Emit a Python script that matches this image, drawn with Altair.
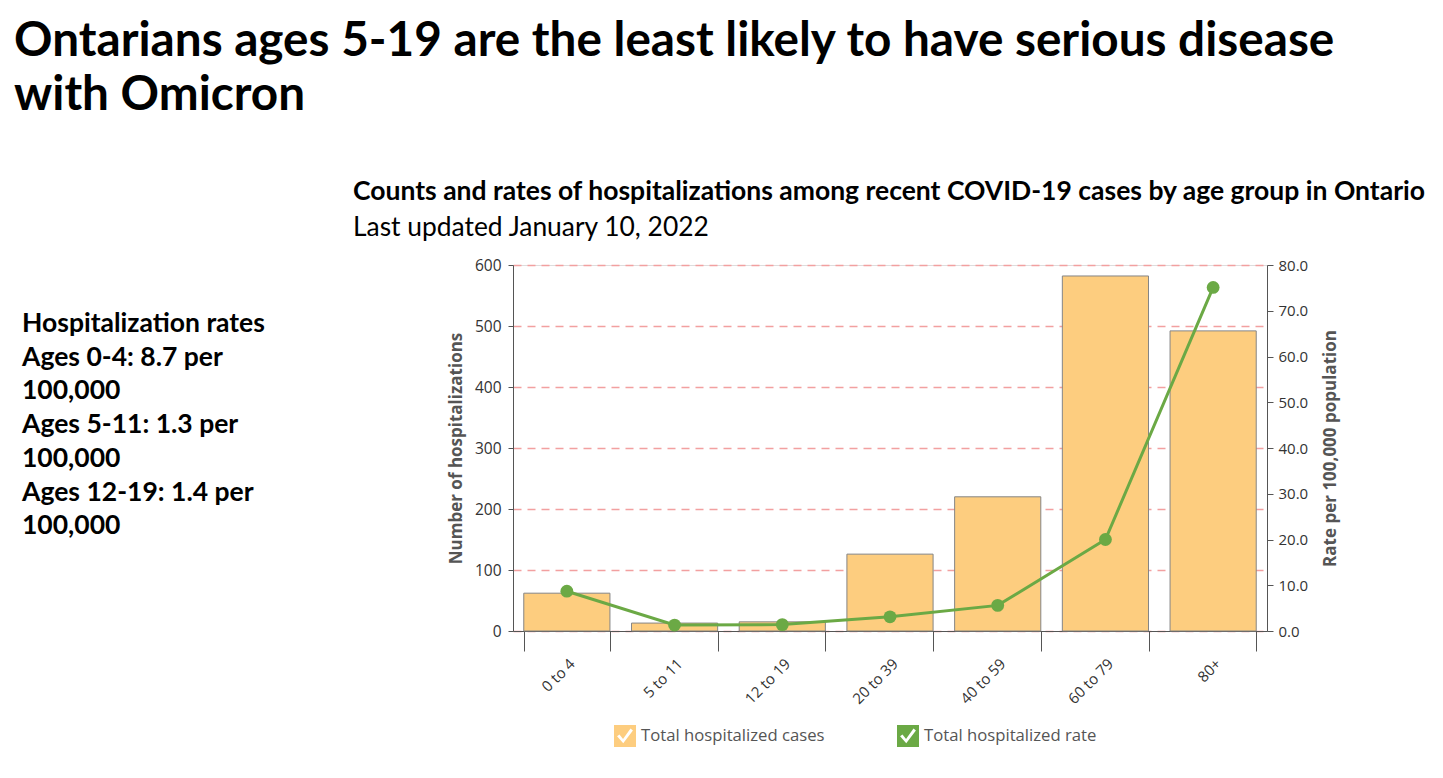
import altair as alt
import pandas as pd

# Hospitalizations among recent COVID-19 cases, Ontario, by age group
age_groups = ["0 to 4", "5 to 11", "12 to 19", "20 to 39", "40 to 59", "60 to 79", "80+"]
hospitalized_cases = [62, 13, 15, 126, 220, 582, 492]
hospitalized_rate = [8.7, 1.3, 1.4, 3.1, 5.6, 20.0, 75.1]

series_names = ["Total hospitalized cases", "Total hospitalized rate"]
series_colors = ["#FDCD7F", "#6BA945"]

count_ticks = [0, 100, 200, 300, 400, 500, 600]
rate_ticks = [0, 10, 20, 30, 40, 50, 60, 70, 80]

heading_lines = [
    "Ontarians ages 5-19 are the least likely to have serious disease",
    "with Omicron",
]
note_lines = [
    "Hospitalization rates",
    "Ages 0-4: 8.7 per",
    "100,000",
    "Ages 5-11: 1.3 per",
    "100,000",
    "Ages 12-19: 1.4 per",
    "100,000",
]
chart_title = "Counts and rates of hospitalizations among recent COVID-19 cases by age group in Ontario"
chart_subtitle = "Last updated January 10, 2022"

df = pd.DataFrame({
    "age": age_groups,
    "cases": hospitalized_cases,
    "rate": hospitalized_rate,
    "cases_series": series_names[0],
    "rate_series": series_names[1],
})
one_row = pd.DataFrame({"k": [0]})

AXIS_FONT = "Open Sans"
TEXT_FONT = "Lato"

# square legend swatch with a check mark cut out of it
CHECK_BOX = "M-1,-1H1V1H-1Z M-0.72,0.02L-0.16,0.66L0.72,-0.5L0.5,-0.68L-0.18,0.28L-0.5,-0.14Z"

x_enc = alt.X(
    "age:N",
    sort=age_groups,
    scale=alt.Scale(paddingInner=0.2, paddingOuter=0.1),
    axis=alt.Axis(
        title=None,
        labelAngle=-45,
        tickBand="extent",
        tickSize=20,
        tickColor="#555",
        domainColor="#555",
        labelFont=AXIS_FONT,
        labelFontSize=15,
        labelColor="#333",
        labelPadding=5,
        labelOffset=0,
    ),
)

color_scale = alt.Scale(domain=series_names, range=series_colors)
legend = alt.Legend(
    title=None,
    orient="none",
    legendX=101,
    legendY=460,
    direction="horizontal",
    symbolType=CHECK_BOX,
    symbolSize=484,
    symbolStrokeWidth=0,
    symbolOpacity=1,
    labelFont=AXIS_FONT,
    labelFontSize=16.7,
    labelColor="#555",
    labelOffset=5,
    labelLimit=400,
    columnPadding=72,
    padding=0,
)

bars = alt.Chart(df).mark_bar(stroke="#858585", strokeWidth=1).encode(
    x=x_enc,
    y=alt.Y(
        "cases:Q",
        scale=alt.Scale(domain=[0, 600]),
        axis=alt.Axis(
            title="Number of hospitalizations",
            values=count_ticks,
            grid=True,
            gridDash=[8, 6],
            gridColor="#F2A0A0",
            gridWidth=1.6,
            tickSize=5,
            tickColor="#555",
            domainColor="#555",
            labelFont=AXIS_FONT,
            labelFontSize=15.5,
            labelColor="#333",
            labelPadding=7,
            titleFont=AXIS_FONT,
            titleFontSize=17,
            titleFontWeight="bold",
            titleColor="#555",
            titlePadding=9,
        ),
    ),
    color=alt.Color("cases_series:N", scale=color_scale, legend=legend),
)

rate_y = alt.Y(
    "rate:Q",
    scale=alt.Scale(domain=[0, 80]),
    axis=alt.Axis(
        title="Rate per 100,000 population",
        orient="right",
        values=rate_ticks,
        format=".1f",
        grid=False,
        tickSize=6,
        tickColor="#555",
        domainColor="#555",
        labelFont=AXIS_FONT,
        labelFontSize=15,
        labelColor="#333",
        labelPadding=5,
        titleAngle=270,
        titleBaseline="top",
        titleFont=AXIS_FONT,
        titleFontSize=17,
        titleFontWeight="bold",
        titleColor="#555",
        titlePadding=15,
    ),
)

line = alt.Chart(df).mark_line(color=series_colors[1], strokeWidth=3).encode(
    x=x_enc,
    y=rate_y,
)

points = alt.Chart(df).mark_circle(size=165, opacity=1).encode(
    x=x_enc,
    y=alt.Y("rate:Q", scale=alt.Scale(domain=[0, 80]), axis=None),
    color=alt.Color("rate_series:N", scale=color_scale, legend=legend),
)

heading = alt.Chart(one_row).mark_text(
    text=heading_lines,
    font=TEXT_FONT,
    fontSize=47.7,
    fontWeight="bold",
    color="#000",
    align="left",
    baseline="alphabetic",
    lineHeight=54,
).encode(x=alt.value(-499), y=alt.value(-209))

note = alt.Chart(one_row).mark_text(
    text=note_lines,
    font=TEXT_FONT,
    fontSize=26.5,
    fontWeight="bold",
    color="#000",
    align="left",
    baseline="alphabetic",
    lineHeight=33.7,
).encode(x=alt.value(-491), y=alt.value(67))

title = alt.Chart(one_row).mark_text(
    text=chart_title,
    font=TEXT_FONT,
    fontSize=26.5,
    fontWeight="bold",
    color="#000",
    align="left",
    baseline="alphabetic",
).encode(x=alt.value(-160), y=alt.value(-65))

subtitle = alt.Chart(one_row).mark_text(
    text=chart_subtitle,
    font=TEXT_FONT,
    fontSize=26.4,
    color="#000",
    align="left",
    baseline="alphabetic",
).encode(x=alt.value(-160), y=alt.value(-29))

chart = (
    alt.layer(bars, line, points, heading, note, title, subtitle)
    .resolve_scale(y="independent")
    .properties(
        width=754,
        height=366,
        autosize=alt.AutoSizeParams(type="none"),
        padding={"left": 513, "top": 265, "right": 176, "bottom": 147},
    )
    .configure_view(strokeWidth=0)
    .configure(background="white")
)

chart.save("out.html", embed_options={"renderer": "svg", "actions": False})
